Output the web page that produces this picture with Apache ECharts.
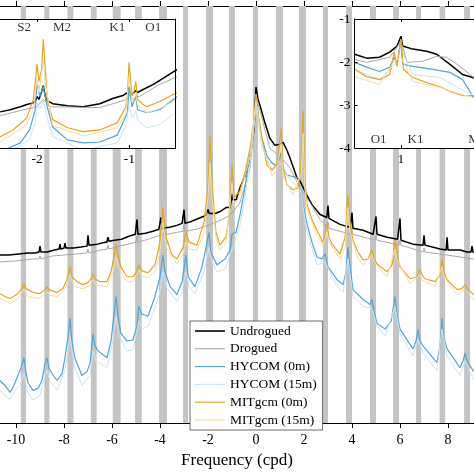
<!DOCTYPE html>
<html><head><meta charset="utf-8">
<script src="https://cdn.jsdelivr.net/npm/echarts@6/dist/echarts.min.js"></script>
<style>html,body{margin:0;padding:0;background:#fff}#c{width:474px;height:474px}</style>
</head><body><div id="c"></div>
<script>
// ---------- main spectrum (frequency cpd, log10 PSD) ----------
const undrogued = [[-10.67,-2.52],[-10.3,-2.52],[-9.9,-2.51],[-9.5,-2.50],[-9.2,-2.50],[-9.04,-2.49],[-9.0,-2.43],[-8.96,-2.49],[-8.7,-2.49],[-8.4,-2.47],[-8.2,-2.46],[-8.17,-2.41],[-8.13,-2.46],[-8.0,-2.45],[-7.96,-2.40],[-7.92,-2.45],[-7.6,-2.45],[-7.3,-2.44],[-7.04,-2.43],[-7.0,-2.32],[-6.96,-2.42],[-6.6,-2.41],[-6.3,-2.39],[-6.21,-2.39],[-6.17,-2.34],[-6.13,-2.38],[-5.9,-2.37],[-5.6,-2.36],[-5.3,-2.33],[-5.03,-2.31],[-4.96,-2.16],[-4.92,-2.31],[-4.6,-2.30],[-4.3,-2.28],[-4.05,-2.26],[-3.96,-2.14],[-3.92,-2.25],[-3.6,-2.24],[-3.3,-2.22],[-3.08,-2.20],[-3.0,-2.06],[-2.96,-2.20],[-2.7,-2.18],[-2.4,-2.15],[-2.1,-2.12],[-2.0,-2.06],[-1.95,-2.10],[-1.7,-2.10],[-1.5,-2.08],[-1.25,-2.04],[-1.08,-2.04],[-1.03,-1.96],[-1.0,-1.90],[-0.97,-1.96],[-0.83,-1.96],[-0.67,-1.84],[-0.46,-1.72],[-0.25,-1.54],[-0.08,-1.24],[0,-0.82],[0.08,-0.94],[0.17,-1.01],[0.38,-1.19],[0.58,-1.34],[0.79,-1.41],[1.0,-1.40],[1.13,-1.38],[1.29,-1.46],[1.42,-1.54],[1.71,-1.74],[1.83,-1.77],[2.13,-1.92],[2.33,-2.01],[2.67,-2.11],[2.95,-2.14],[3.0,-2.02],[3.04,-2.15],[3.5,-2.21],[3.92,-2.24],[4.0,-2.09],[4.04,-2.25],[4.46,-2.27],[4.88,-2.31],[5.0,-2.13],[5.04,-2.31],[5.46,-2.34],[5.9,-2.36],[6.0,-2.15],[6.04,-2.37],[6.54,-2.41],[6.96,-2.42],[7.0,-2.32],[7.04,-2.42],[7.67,-2.46],[7.92,-2.47],[7.96,-2.34],[8.0,-2.47],[8.5,-2.47],[8.79,-2.49],[8.96,-2.49],[9.0,-2.43],[9.04,-2.49],[9.33,-2.50]];
const drogued = [[-10.67,-2.59],[-10.0,-2.58],[-9.3,-2.56],[-9.04,-2.56],[-9.0,-2.53],[-8.96,-2.56],[-8.5,-2.53],[-8.0,-2.52],[-7.5,-2.51],[-7.04,-2.50],[-7.0,-2.46],[-6.96,-2.50],[-6.5,-2.47],[-6.21,-2.46],[-6.17,-2.42],[-6.13,-2.46],[-5.5,-2.42],[-5.0,-2.39],[-4.96,-2.33],[-4.92,-2.39],[-4.5,-2.36],[-4.0,-2.32],[-3.96,-2.27],[-3.92,-2.32],[-3.5,-2.30],[-3.04,-2.28],[-3.0,-2.21],[-2.96,-2.28],[-2.5,-2.26],[-2.0,-2.22],[-1.5,-2.17],[-1.08,-2.12],[-0.67,-1.99],[-0.25,-1.64],[-0.08,-1.24],[0,-0.89],[0.08,-0.99],[0.17,-1.06],[0.38,-1.26],[0.58,-1.44],[1.0,-1.52],[1.42,-1.64],[1.83,-1.84],[2.25,-1.99],[2.67,-2.16],[2.96,-2.24],[3.0,-2.19],[3.04,-2.25],[3.5,-2.28],[3.96,-2.31],[4.0,-2.26],[4.04,-2.31],[4.96,-2.37],[5.0,-2.32],[5.04,-2.37],[5.96,-2.42],[6.0,-2.37],[6.04,-2.42],[6.96,-2.49],[7.0,-2.45],[7.04,-2.49],[7.67,-2.51],[8.5,-2.54],[9.08,-2.56],[9.33,-2.57]];
const hycom0 = [[-10.67,-3.79],[-10.46,-3.84],[-10.25,-3.91],[-10.13,-3.86],[-10.04,-3.81],[-9.92,-3.74],[-9.79,-3.66],[-9.67,-3.56],[-9.58,-3.72],[-9.5,-3.81],[-9.29,-3.89],[-9.08,-3.87],[-8.92,-3.79],[-8.79,-3.62],[-8.71,-3.56],[-8.63,-3.66],[-8.5,-3.72],[-8.29,-3.79],[-8.08,-3.72],[-7.96,-3.56],[-7.83,-3.34],[-7.75,-3.16],[-7.67,-3.39],[-7.54,-3.57],[-7.25,-3.74],[-7.04,-3.70],[-6.92,-3.62],[-6.79,-3.32],[-6.71,-3.44],[-6.58,-3.49],[-6.21,-3.56],[-6.04,-3.39],[-5.92,-3.12],[-5.83,-2.94],[-5.75,-3.14],[-5.63,-3.31],[-5.38,-3.39],[-5.13,-3.38],[-4.96,-3.24],[-4.88,-3.04],[-4.75,-3.12],[-4.5,-3.14],[-4.21,-2.94],[-4.0,-2.74],[-3.88,-2.52],[-3.79,-2.69],[-3.58,-2.84],[-3.29,-2.92],[-3.08,-2.79],[-2.92,-2.52],[-2.83,-2.74],[-2.54,-2.84],[-2.25,-2.64],[-2.08,-2.44],[-1.96,-2.29],[-1.88,-2.49],[-1.63,-2.62],[-1.29,-2.56],[-1.08,-2.47],[-1.0,-2.31],[-0.83,-2.29],[-0.67,-2.12],[-0.46,-1.84],[-0.25,-1.49],[-0.08,-1.19],[0,-0.94],[0.08,-1.12],[0.25,-1.34],[0.46,-1.52],[0.67,-1.59],[0.88,-1.62],[1.04,-1.49],[1.13,-1.64],[1.29,-1.71],[1.75,-1.74],[1.92,-1.97],[2.13,-2.21],[2.33,-2.39],[2.54,-2.54],[2.75,-2.56],[2.88,-2.51],[3.0,-2.64],[3.38,-2.77],[3.63,-2.82],[3.75,-2.69],[3.83,-2.44],[3.92,-2.64],[4.04,-2.87],[4.46,-2.97],[4.75,-3.02],[4.83,-2.97],[4.92,-3.09],[5.04,-3.21],[5.38,-3.27],[5.63,-3.19],[5.79,-2.94],[5.88,-3.12],[6.0,-3.27],[6.54,-3.47],[6.67,-3.39],[6.75,-3.27],[6.83,-3.39],[6.96,-3.44],[7.54,-3.61],[7.67,-3.44],[7.75,-3.16],[7.83,-3.36],[7.96,-3.47],[8.5,-3.66],[8.63,-3.59],[8.71,-3.51],[8.79,-3.59],[9.04,-3.69],[9.33,-3.74]];
const hycom15 = [[-10.67,-3.89],[-10.46,-3.94],[-10.25,-3.98],[-10.04,-3.89],[-9.83,-3.84],[-9.67,-3.72],[-9.5,-3.92],[-9.29,-3.99],[-9.0,-3.94],[-8.79,-3.74],[-8.71,-3.69],[-8.58,-3.80],[-8.29,-3.89],[-7.96,-3.69],[-7.75,-3.34],[-7.58,-3.64],[-7.25,-3.84],[-6.92,-3.74],[-6.79,-3.49],[-6.67,-3.59],[-6.21,-3.66],[-5.96,-3.39],[-5.83,-3.14],[-5.71,-3.34],[-5.38,-3.49],[-5.13,-3.48],[-4.88,-3.19],[-4.75,-3.27],[-4.5,-3.24],[-4.21,-3.06],[-4.0,-2.89],[-3.88,-2.69],[-3.75,-2.84],[-3.29,-2.99],[-3.08,-2.89],[-2.92,-2.69],[-2.79,-2.84],[-2.54,-2.91],[-2.17,-2.69],[-1.96,-2.44],[-1.83,-2.59],[-1.63,-2.69],[-1.29,-2.66],[-0.96,-2.44],[-0.67,-2.22],[-0.46,-1.94],[-0.25,-1.59],[0,-1.02],[0.25,-1.44],[0.67,-1.66],[1.04,-1.59],[1.42,-1.76],[1.83,-1.84],[2.13,-2.29],[2.54,-2.62],[2.88,-2.59],[3.38,-2.84],[3.63,-2.90],[3.83,-2.56],[4.04,-2.94],[4.46,-3.04],[4.83,-3.06],[5.04,-3.24],[5.38,-3.34],[5.79,-3.04],[6.0,-3.32],[6.54,-3.54],[6.75,-3.37],[6.96,-3.51],[7.54,-3.69],[7.75,-3.27],[7.96,-3.54],[8.5,-3.74],[8.71,-3.59],[9.04,-3.77],[9.33,-3.82]];
const mit0 = [[-10.67,-2.91],[-10.46,-2.94],[-10.25,-2.96],[-9.96,-2.92],[-9.75,-2.86],[-9.67,-2.81],[-9.58,-2.86],[-9.29,-2.90],[-9.0,-2.91],[-8.79,-2.87],[-8.71,-2.84],[-8.63,-2.87],[-8.29,-2.90],[-8.04,-2.86],[-7.88,-2.77],[-7.75,-2.64],[-7.67,-2.74],[-7.46,-2.79],[-7.21,-2.82],[-7.0,-2.80],[-6.88,-2.76],[-6.79,-2.71],[-6.71,-2.76],[-6.5,-2.79],[-6.21,-2.79],[-6.04,-2.69],[-5.92,-2.54],[-5.83,-2.41],[-5.75,-2.52],[-5.63,-2.64],[-5.38,-2.74],[-5.13,-2.74],[-4.96,-2.69],[-4.88,-2.62],[-4.75,-2.68],[-4.5,-2.70],[-4.21,-2.62],[-4.0,-2.39],[-3.88,-2.04],[-3.75,-2.34],[-3.5,-2.52],[-3.29,-2.56],[-3.04,-2.44],[-2.92,-2.29],[-2.79,-2.39],[-2.46,-2.42],[-2.17,-2.19],[-2.0,-1.84],[-1.92,-1.31],[-1.83,-1.79],[-1.67,-2.29],[-1.5,-2.42],[-1.25,-2.34],[-1.08,-2.04],[-1.0,-1.62],[-0.92,-1.94],[-0.67,-1.87],[-0.46,-1.69],[-0.25,-1.44],[-0.08,-1.14],[0,-0.89],[0.08,-1.06],[0.25,-1.34],[0.46,-1.61],[0.67,-1.66],[0.88,-1.59],[1.04,-1.24],[1.13,-1.64],[1.29,-1.81],[1.54,-1.86],[1.75,-1.84],[1.88,-1.59],[1.96,-1.06],[2.04,-1.79],[2.13,-2.01],[2.33,-2.16],[2.54,-2.27],[2.79,-2.39],[2.88,-2.29],[2.96,-2.19],[3.04,-2.34],[3.17,-2.41],[3.5,-2.51],[3.71,-2.34],[3.83,-1.91],[3.92,-2.19],[4.04,-2.37],[4.25,-2.49],[4.46,-2.57],[4.67,-2.56],[4.83,-2.46],[4.92,-2.56],[5.04,-2.61],[5.46,-2.69],[5.67,-2.62],[5.79,-2.37],[5.88,-2.52],[6.0,-2.64],[6.42,-2.76],[6.71,-2.74],[6.83,-2.66],[6.92,-2.72],[7.04,-2.76],[7.46,-2.79],[7.67,-2.72],[7.75,-2.57],[7.83,-2.69],[7.96,-2.77],[8.38,-2.87],[8.58,-2.86],[8.71,-2.82],[8.83,-2.87],[9.08,-2.92],[9.33,-2.94]];
const mit15 = [[-10.67,-2.96],[-10.25,-3.01],[-9.96,-2.97],[-9.67,-2.87],[-9.5,-2.94],[-9.29,-2.95],[-9.0,-2.96],[-8.71,-2.89],[-8.58,-2.93],[-8.29,-2.94],[-7.96,-2.87],[-7.75,-2.72],[-7.58,-2.84],[-7.21,-2.86],[-6.92,-2.83],[-6.79,-2.77],[-6.67,-2.82],[-6.21,-2.84],[-5.96,-2.69],[-5.83,-2.54],[-5.71,-2.66],[-5.38,-2.79],[-5.13,-2.79],[-4.88,-2.67],[-4.75,-2.73],[-4.5,-2.75],[-4.21,-2.69],[-4.0,-2.49],[-3.88,-2.19],[-3.75,-2.44],[-3.29,-2.61],[-3.04,-2.51],[-2.92,-2.39],[-2.79,-2.46],[-2.46,-2.47],[-2.17,-2.29],[-2.0,-1.94],[-1.92,-1.59],[-1.83,-1.94],[-1.67,-2.34],[-1.5,-2.47],[-1.25,-2.40],[-1.0,-1.79],[-0.92,-2.02],[-0.67,-1.92],[-0.25,-1.52],[0,-0.96],[0.25,-1.40],[0.67,-1.72],[0.88,-1.66],[1.04,-1.39],[1.13,-1.72],[1.54,-1.91],[1.88,-1.69],[1.96,-1.29],[2.04,-1.86],[2.13,-2.06],[2.54,-2.32],[2.79,-2.42],[2.96,-2.29],[3.04,-2.39],[3.5,-2.56],[3.71,-2.44],[3.83,-2.04],[3.92,-2.29],[4.25,-2.56],[4.46,-2.62],[4.83,-2.52],[4.92,-2.59],[5.46,-2.74],[5.79,-2.46],[5.88,-2.57],[6.42,-2.81],[6.83,-2.72],[6.92,-2.77],[7.46,-2.84],[7.75,-2.64],[7.83,-2.74],[8.38,-2.92],[8.71,-2.87],[8.83,-2.91],[9.08,-2.97],[9.33,-2.99]];

// ---------- left inset ----------
const undroguedL = [[-2.40,-3.16],[-2.29,-3.11],[-2.18,-3.04],[-2.11,-2.99],[-2.04,-2.95],[-2.01,-2.87],[-2.0,-2.80],[-1.98,-2.87],[-1.95,-2.69],[-1.932,-2.55],[-1.91,-2.80],[-1.89,-2.90],[-1.83,-2.97],[-1.67,-3.02],[-1.50,-3.04],[-1.32,-2.97],[-1.18,-2.85],[-1.07,-2.78],[-1.02,-2.71],[-1.0027,-2.59],[-0.98,-2.76],[-0.95,-2.71],[-0.9295,-2.66],[-0.91,-2.71],[-0.85,-2.64],[-0.74,-2.52],[-0.67,-2.43],[-0.48,-2.17]];
const droguedL = [[-2.40,-3.25],[-2.18,-3.13],[-2.0,-3.04],[-1.932,-2.87],[-1.86,-3.04],[-1.32,-3.06],[-1.02,-2.87],[-1.0027,-2.76],[-0.97,-2.87],[-0.9295,-2.80],[-0.89,-2.80],[-0.67,-2.52],[-0.48,-2.34]];
const hycom0L = [[-2.40,-4.09],[-2.18,-3.88],[-2.08,-3.58],[-2.02,-3.11],[-2.0,-2.48],[-1.97,-2.80],[-1.932,-2.57],[-1.89,-3.04],[-1.83,-3.51],[-1.67,-3.81],[-1.50,-3.88],[-1.32,-3.86],[-1.13,-3.70],[-1.02,-3.18],[-1.0027,-2.57],[-0.97,-3.04],[-0.9295,-2.80],[-0.91,-3.11],[-0.81,-3.18],[-0.67,-3.11],[-0.48,-2.80]];
const hycom15L = [[-2.40,-4.23],[-2.08,-3.81],[-2.02,-3.40],[-2.0,-2.95],[-1.97,-3.10],[-1.932,-2.90],[-1.89,-3.30],[-1.83,-3.74],[-1.50,-4.05],[-1.13,-3.88],[-1.04,-3.50],[-1.0027,-3.00],[-0.97,-3.30],[-0.9295,-3.13],[-0.91,-3.35],[-0.81,-3.53],[-0.67,-3.45],[-0.48,-3.15]];
const mit0L = [[-2.40,-3.74],[-2.26,-3.58],[-2.11,-3.30],[-2.04,-2.87],[-2.015,-2.41],[-2.0,-2.05],[-1.98,-2.45],[-1.95,-2.17],[-1.932,-1.47],[-1.91,-2.17],[-1.89,-2.87],[-1.83,-3.34],[-1.67,-3.53],[-1.50,-3.62],[-1.32,-3.58],[-1.13,-3.41],[-1.04,-3.06],[-1.02,-2.76],[-1.0027,-2.01],[-0.97,-2.80],[-0.95,-2.69],[-0.9295,-2.45],[-0.91,-2.87],[-0.85,-2.99],[-0.81,-3.04],[-0.67,-2.92],[-0.48,-2.71]];
const mit15L = [[-2.40,-3.86],[-2.11,-3.46],[-2.04,-3.10],[-2.0,-2.41],[-1.98,-2.70],[-1.932,-1.98],[-1.91,-2.50],[-1.83,-3.48],[-1.50,-3.72],[-1.13,-3.53],[-1.04,-3.20],[-1.0027,-2.36],[-0.97,-2.95],[-0.9295,-2.76],[-0.91,-3.00],[-0.81,-3.18],[-0.67,-3.08],[-0.48,-2.87]];

// ---------- right inset ----------
const undroguedR = [[0.5,-1.82],[0.63,-1.91],[0.77,-1.89],[0.88,-1.77],[0.96,-1.63],[1.0027,-1.40],[1.02,-1.63],[1.13,-1.70],[1.28,-1.75],[1.39,-1.82],[1.53,-2.05],[1.67,-2.29],[1.78,-2.36],[1.9,-2.40]];
const droguedR = [[0.5,-1.94],[0.63,-2.01],[0.88,-1.89],[0.9295,-1.75],[1.0027,-1.52],[1.07,-2.01],[1.24,-1.98],[1.39,-1.87],[1.5,-1.89],[1.64,-2.10],[1.78,-2.34],[1.9,-2.50]];
const hycom0R = [[0.5,-2.01],[0.63,-2.12],[0.77,-2.22],[0.88,-2.12],[0.9295,-1.89],[0.96,-2.05],[1.0027,-1.47],[1.02,-2.05],[1.13,-2.10],[1.35,-2.17],[1.53,-2.24],[1.67,-2.41],[1.75,-2.69],[1.78,-2.80],[1.86,-2.87]];
const hycom15R = [[0.5,-2.17],[0.77,-2.41],[0.9295,-2.08],[1.0027,-1.70],[1.13,-2.29],[1.42,-2.36],[1.72,-2.71],[1.86,-2.83]];
const mit0R = [[0.5,-2.17],[0.63,-2.34],[0.77,-2.41],[0.88,-2.29],[0.9295,-1.77],[0.96,-2.10],[1.0027,-1.47],[1.03,-2.17],[1.13,-2.36],[1.28,-2.48],[1.42,-2.57],[1.56,-2.71],[1.67,-2.78],[1.78,-2.78],[1.9,-2.80]];
const mit15R = [[0.5,-2.34],[0.77,-2.52],[0.9295,-1.98],[1.0027,-1.89],[1.13,-2.45],[1.42,-2.59],[1.78,-2.83]];

// ---------- shaded frequency bands, tidal lines, labels, ticks ----------
const bands = [[-9.80,-9.58],[-8.82,-8.61],[-7.86,-7.61],[-6.88,-6.64],[-5.97,-5.64],[-5.04,-4.76],[-4.04,-3.71],[-3.04,-2.83],[-2.08,-1.79],[-1.13,-0.88],[-0.13,0.08],[0.83,1.13],[1.79,2.08],[2.79,3.0],[3.75,4.0],[4.75,5.0],[5.71,5.96],[6.67,6.88],[7.65,7.88],[8.67,8.92]];
const tidalLeft = [-2.0,-1.9323,-1.0027,-0.9295];
const tidalRight = [0.9295,1.0027];
const labelsLeft = [['S2',-2.14,-1.19],['M2',-1.73,-1.19],['K1',-1.13,-1.19],['O1',-0.74,-1.19]];
const labelsRight = [['O1',0.76,-3.81],['K1',1.16,-3.81]];
const labelsRightEdge = [['M2',1.73,-3.81]];
const mainTicks = [-10,-8,-6,-4,-2,0,2,4,6,8];
const insetTicksL = [-2,-1];
const insetTicksR = [1];
const insetYTicks = [-4,-3,-2,-1];

const names = ['Undrogued','Drogued','HYCOM (0m)','HYCOM (15m)','MITgcm (0m)','MITgcm (15m)'];
const colors = ['#000000','#a8a8a8','#4ea6d8','#c8e4f4','#e6a61e','#f3dfa2'];
const widths = [1.5,1,1.2,1,1.2,1];
const mainSets = [undrogued,drogued,hycom0,hycom15,mit0,mit15];
const leftSets = [undroguedL,droguedL,hycom0L,hycom15L,mit0L,mit15L];
const rightSets = [undroguedR,droguedR,hycom0R,hycom15R,mit0R,mit15R];

const FONT = 'Liberation Serif, DejaVu Serif, serif';
const chart = echarts.init(document.getElementById('c'), null, {renderer:'canvas'});

function lineSeries(data, i, xi, yi, z){
  return {type:'line', name:names[i], data:data, xAxisIndex:xi, yAxisIndex:yi, z:z,
    showSymbol:false, symbol:'none', animation:false, silent:true,
    color:colors[i], lineStyle:{color:colors[i], width:widths[i]}};
}
const series = [];
series.push({type:'line', name:'bands', data:[], xAxisIndex:0, yAxisIndex:0, z:1, silent:true, animation:false,
  markArea:{silent:true, itemStyle:{color:'#c4c4c4'}, data:bands.map(b=>[{xAxis:b[0]},{xAxis:b[1]}])}});
mainSets.forEach((d,i)=>series.push(lineSeries(d,i,0,0,3)));
leftSets.forEach((d,i)=>series.push(lineSeries(d,i,2,1,11)));
rightSets.forEach((d,i)=>series.push(lineSeries(d,i,4,2,11)));
function labelSeries(list, tides, xi, yi, pos){
  return {type:'scatter', name:'labels', xAxisIndex:xi, yAxisIndex:yi, z:12, silent:true, animation:false,
    symbolSize:0, itemStyle:{color:'transparent'}, clip:false,
    data:list.map(l=>({name:l[0], value:[l[1],l[2]]})),
    label:{show:true, position:pos, distance:0, formatter:'{b}', fontFamily:FONT, fontSize:13, color:'#000'},
    markLine:{silent:true, symbol:'none', animation:false, label:{show:false},
      lineStyle:{type:[1.5,2.5], color:'#000', width:1},
      data:tides.map(t=>({xAxis:t}))}};
}
series.push(labelSeries(labelsLeft, tidalLeft, 2, 1, 'inside'));
series.push(labelSeries(labelsRight, tidalRight, 4, 2, 'inside'));
series.push(labelSeries(labelsRightEdge, [], 4, 2, 'right'));

const axLine = {show:true, onZero:false, lineStyle:{color:'#000', width:1}};
const insetX = (min,max,grid,ticks,pos,lab)=>({type:'value', gridIndex:grid, min:min, max:max, z:12, position:pos,
  axisLine:axLine,
  axisTick:{show:true, inside:true, length:3, customValues:ticks, lineStyle:{color:'#000'}},
  axisLabel:{show:lab, customValues:ticks, margin:4, fontFamily:FONT, fontSize:13.5, color:'#000'},
  splitLine:{show:false}});
const insetY = (grid,pos,lab,tick)=>({type:'value', gridIndex:grid, min:-4, max:-1, z:12, position:pos,
  axisLine:{show:true, onZero:false, lineStyle:{color:'#000', width:1}},
  axisTick:{show:tick, inside:true, length:3, customValues:insetYTicks, lineStyle:{color:'#000'}},
  axisLabel:{show:lab, customValues:insetYTicks, margin:4, fontFamily:FONT, fontSize:13.5, color:'#000'},
  splitLine:{show:false}});

// legend icons: horizontal line segments of the series' width
const legendIcon = w => 'path://M0,0 M0,' + (6 - w/2) + ' h30 v' + w + ' h-30 z M30,12';

chart.setOption({
  backgroundColor:'#fff',
  animation:false,
  textStyle:{fontFamily:FONT},
  grid:[
    {left:0, top:6, width:474, height:422, show:false, z:0},
    {left:0, top:19, width:175.45, height:129, show:true, backgroundColor:'#fff', borderWidth:0, z:10},
    {left:354.6, top:19, width:119.4, height:129, show:true, backgroundColor:'#fff', borderWidth:0, z:10}
  ],
  xAxis:[
    {type:'value', gridIndex:0, min:-10.667, max:9.083, position:'bottom',
      name:'Frequency (cpd)', nameLocation:'middle', nameGap:29,
      nameTextStyle:{fontFamily:FONT, fontSize:17, color:'#000'},
      axisLine:axLine,
      axisTick:{show:true, length:5, customValues:mainTicks, lineStyle:{color:'#000'}},
      axisLabel:{fontFamily:FONT, fontSize:14, color:'#000', margin:10, customValues:mainTicks},
      splitLine:{show:false}},
    {type:'value', gridIndex:0, min:-10.667, max:9.083, position:'top',
      axisLine:axLine,
      axisTick:{show:true, length:5, customValues:mainTicks, lineStyle:{color:'#000'}},
      axisLabel:{show:false, customValues:mainTicks}, splitLine:{show:false}},
    insetX(-2.4009,-0.5,1,insetTicksL,'bottom',true),
    insetX(-2.4009,-0.5,1,insetTicksL,'top',false),
    insetX(0.5,1.7936,2,insetTicksR,'bottom',true),
    insetX(0.5,1.7936,2,insetTicksR,'top',false)
  ],
  yAxis:[
    {type:'value', gridIndex:0, min:-4.22, max:0, show:false, splitLine:{show:false}},
    insetY(1,'right',false,false),
    insetY(2,'left',true,true)
  ],
  legend:{data:names.map((n,i)=>({name:n, icon:legendIcon(i===0?1.6:1.1)})),
    orient:'vertical', left:190, top:321, itemWidth:30, itemHeight:12, itemGap:3.8,
    padding:[3,6,3,5], backgroundColor:'#fff', borderColor:'#444', borderWidth:0.8, borderRadius:0,
    textStyle:{fontFamily:FONT, fontSize:13.5, color:'#000'}, z:20, selectedMode:false},
  series:series
});
</script>
</body></html>
